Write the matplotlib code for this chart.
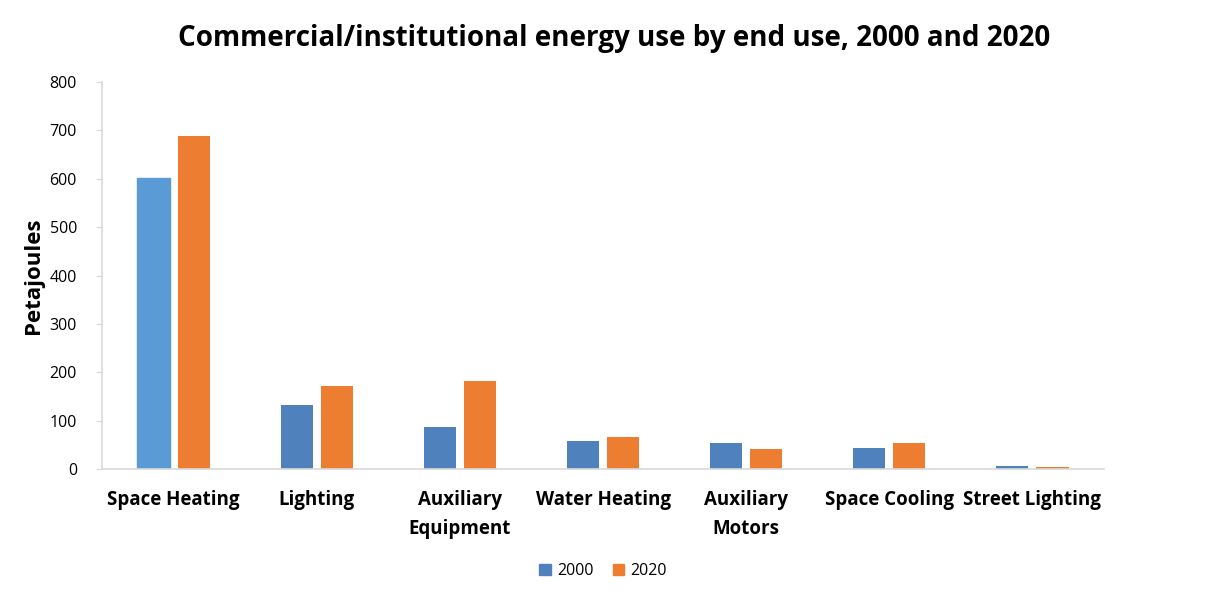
import matplotlib.pyplot as plt
from matplotlib.patches import Patch
import numpy as np

plt.rcParams['font.family'] = ['Open Sans', 'DejaVu Sans']

categories = ['Space Heating', 'Lighting', 'Auxiliary\nEquipment', 'Water Heating',
              'Auxiliary\nMotors', 'Space Cooling', 'Street Lighting']
y2000 = [602, 132, 87, 58, 54, 43, 6]
y2020 = [688, 171, 182, 66, 41, 54, 4]

blue = '#4F81BD'
blue_first = '#5B9BD5'
orange = '#ED7D31'

fig = plt.figure(figsize=(12.23, 5.99), dpi=100)
ax = fig.add_axes([0.0834, 0.217, 0.8193, 0.646])

x = np.arange(len(categories))
w = 0.224
off = 0.14
b1 = ax.bar(x - off, y2000, w, color=blue)
b1[0].set_color(blue_first)
ax.bar(x + off, y2020, w, color=orange)

ax.set_xlim(-0.5, len(categories) - 0.5)
ax.set_ylim(0, 800)
ax.set_yticks(np.arange(0, 801, 100))
ax.set_xticks(x)
ax.set_xticklabels(categories, fontsize=13.5, fontweight='bold', linespacing=1.6)
ax.tick_params(axis='x', length=0, pad=15)
ax.tick_params(axis='y', labelsize=11.5, length=4, color='#D9D9D9', pad=14)
for s in ['top', 'right']:
    ax.spines[s].set_visible(False)
for s in ['left', 'bottom']:
    ax.spines[s].set_color('#D9D9D9')
    ax.spines[s].set_linewidth(1.2)

ax.set_ylabel('Petajoules', fontsize=16, fontweight='bold')
ax.yaxis.set_label_coords(-0.058, 0.5)
fig.text(0.502, 0.935, 'Commercial/institutional energy use by end use, 2000 and 2020',
         ha='center', va='center', fontsize=20, fontweight='bold')

handles = [Patch(color=blue, label='2000'), Patch(color=orange, label='2020')]
ax.legend(handles=handles, loc='upper center', bbox_to_anchor=(0.5, -0.205), ncol=2,
          frameon=False, fontsize=11.5, handlelength=0.7, handleheight=0.7,
          columnspacing=1.2, handletextpad=0.4)

fig.savefig('out.png')
